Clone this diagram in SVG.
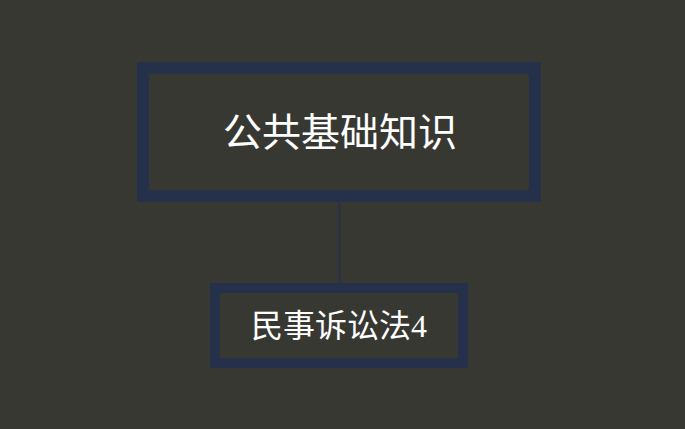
<svg xmlns="http://www.w3.org/2000/svg" width="685" height="429" viewBox="0 0 685 429">
<style>
.box{fill:#383833;stroke:#25314a}
.t{fill:#ffffff;font-family:"Liberation Serif","Noto Sans CJK SC",serif;text-anchor:middle;dominant-baseline:central}
</style>
<rect width="685" height="429" fill="#383833"/>
<g id="connectors">
<line x1="339.5" y1="202" x2="339.5" y2="283" stroke="#25314a" stroke-width="2"/>
</g>
<g id="node1">
<rect class="box" x="143" y="68" width="392" height="128" stroke-width="12"/>
<text class="t" x="340" y="132" font-size="39">公共基础知识</text>
</g>
<g id="node2">
<rect class="box" x="215" y="288" width="248" height="75" stroke-width="10"/>
<text class="t" x="339" y="326" font-size="32">民事诉讼法4</text>
</g>
</svg>
